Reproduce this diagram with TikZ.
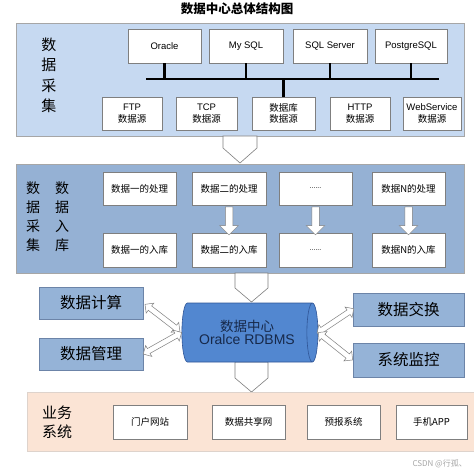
\documentclass[tikz,border=0pt]{standalone}
\usepackage{fontspec}
\setmainfont{Liberation Sans}
\newfontfamily\cjk{Noto Sans CJK SC}
\usetikzlibrary{shapes.geometric,shapes.arrows}
\definecolor{pOne}{HTML}{C6D9F1}
\definecolor{pTwo}{HTML}{95B1D4}
\definecolor{pFour}{HTML}{FBE4D5}
\definecolor{edgeGray}{HTML}{A6A6A6}
\definecolor{boxEdge}{HTML}{7F7F7F}
\definecolor{midBox}{HTML}{95B3D7}
\definecolor{midEdge}{HTML}{6C84A8}
\definecolor{cylFill}{HTML}{5287D0}
\definecolor{cylEdge}{HTML}{2F5597}
\definecolor{cylText}{HTML}{17294A}
\begin{document}
\begin{tikzpicture}[x=1pt,y=-1pt,
  panel/.style={draw=edgeGray,line width=0.6pt},
  wbox/.style={draw=boxEdge,fill=white,line width=0.6pt,inner sep=0pt,align=center,
    font=\fontsize{9.5}{11.5}\selectfont},
  cbox/.style={wbox,font=\cjk\fontsize{9.5}{11.5}\selectfont},
  mbox/.style={draw=midEdge,fill=midBox,line width=0.6pt,inner sep=0pt,
    minimum width=104pt,font=\cjk\fontsize{15.5}{18}\selectfont},
  bus/.style={line width=2.2pt,black},
  blk/.style={draw=boxEdge,fill=white,line width=0.6pt,line join=miter},
  darrow/.style={double arrow,draw=boxEdge,fill=white,line width=0.5pt,
    minimum height=44pt,minimum width=12pt,inner sep=2.5pt,double arrow head extend=3.5pt},
  sarrow/.style={single arrow,draw=boxEdge,fill=white,line width=0.5pt,rotate=-90,
    minimum height=28pt,minimum width=18pt,inner sep=3.5pt,single arrow head extend=5.5pt},
  biglabel/.style={font=\cjk\fontsize{15}{20.5}\selectfont,align=center,inner sep=0pt}
]
\useasboundingbox (0,0) rectangle (474,473);
\fill[white] (0,0) rectangle (474,473);

% title
\node[font=\cjk\bfseries\fontsize{12.5}{14}\selectfont] (title) at (237,9) {数据中心总体结构图};

% panel 1
\draw[panel,fill=pOne] (16,23) rectangle (464,136);
\node[biglabel] (l1) at (49,75.5) {数\\据\\采\\集};
\node[wbox,minimum width=73pt,minimum height=34pt] (ora) at (164.5,46) {Oracle};
\node[wbox,minimum width=74pt,minimum height=34pt] (my) at (246,46) {My SQL};
\node[wbox,minimum width=74pt,minimum height=34pt] (sqls) at (330,46) {SQL Server};
\node[wbox,minimum width=72pt,minimum height=34pt] (pg) at (411,46) {PostgreSQL};
\node[wbox,minimum width=60pt,minimum height=33pt] (ftp) at (132,113.5) {FTP\\{\cjk 数据源}};
\node[wbox,minimum width=61pt,minimum height=33pt] (tcp) at (206.5,113.5) {TCP\\{\cjk 数据源}};
\node[cbox,minimum width=63pt,minimum height=33pt] (db) at (283.5,113.5) {数据库\\数据源};
\node[wbox,minimum width=60pt,minimum height=33pt] (http) at (360,113.5) {HTTP\\{\cjk 数据源}};
\node[wbox,minimum width=58pt,minimum height=33pt] (ws) at (432,113.5) {WebService\\{\cjk 数据源}};
\coordinate (busL) at (146,79);
\coordinate (busR) at (439,79);
\draw[bus] (busL) -- (busR);
\foreach \n in {ora,my,sqls,pg}{\draw[bus] (\n.south) -- (\n.south |- busL);}
\draw[bus] (db.north |- busL) -- (db.north);

% arrow 1
\draw[blk] (223,136) -- (223,148) -- (240,163) -- (257,148) -- (257,136) -- cycle;

% panel 2
\draw[panel,fill=pTwo] (16,164) rectangle (464,273);
\node[font=\cjk\fontsize{14}{19}\selectfont,align=center,inner sep=0pt] (l2a) at (33,216.5) {数\\据\\采\\集};
\node[font=\cjk\fontsize{14}{19}\selectfont,align=center,inner sep=0pt] (l2b) at (62,216.5) {数\\据\\入\\库};
\node[cbox,minimum width=73pt,minimum height=33pt] (p1) at (139.5,188.5) {数据一的处理};
\node[cbox,minimum width=74pt,minimum height=33pt] (p2) at (229,188.5) {数据二的处理};
\node[wbox,minimum width=73pt,minimum height=33pt,font=\fontsize{7}{8}\selectfont] (p3) at (315.5,188.5) {......};
\node[cbox,minimum width=73pt,minimum height=33pt] (p4) at (408.5,188.5) {数据N的处理};
\node[cbox,minimum width=73pt,minimum height=34pt] (s1) at (139.5,250) {数据一的入库};
\node[cbox,minimum width=74pt,minimum height=34pt] (s2) at (229,250) {数据二的入库};
\node[wbox,minimum width=73pt,minimum height=34pt,font=\fontsize{7}{8}\selectfont] (s3) at (315.5,250) {......};
\node[cbox,minimum width=73pt,minimum height=34pt] (s4) at (408.5,250) {数据N的入库};
\foreach \a/\b in {p2/s2,p3/s3,p4/s4}{\path (\a.south) -- node[sarrow] {} (\b.north);}

% arrows 2 and 3
\draw[blk] (235,273) -- (235,288) -- (251.5,302) -- (268,288) -- (268,273) -- cycle;
\draw[blk] (235,362) -- (235,378) -- (251.5,392) -- (268,378) -- (268,362) -- cycle;

% middle layer
\node[cylinder,draw=cylEdge,fill=cylFill,line width=0.6pt,minimum height=136pt,minimum width=59pt,
  aspect=0.45,inner sep=0pt,align=center,text=cylText] (cyl) at (247,332.5)
  {{\cjk\fontsize{13.5}{16}\selectfont 数据中心}\\[1pt]{\fontsize{14}{16}\selectfont Oralce RDBMS}};
\node[mbox,minimum height=32pt] (calc) at (91,303) {数据计算};
\node[mbox,minimum height=32pt] (mgmt) at (91,354) {数据管理};
\node[mbox,minimum width=111pt,minimum height=33pt] (exch) at (408.5,309.5) {数据交换};
\node[mbox,minimum width=111pt,minimum height=34pt] (mon) at (408.5,360) {系统监控};
\path (calc.east) -- node[darrow,sloped] {} (cyl.west);
\path (mgmt.east) -- node[darrow,sloped] {} (cyl.west);
\path (cyl.east) -- node[darrow,sloped] {} (exch.west);
\path (cyl.east) -- node[darrow,sloped] {} (mon.west);

% panel 4
\draw[draw=pFour!80!black!60,fill=pFour,line width=0.6pt] (27,392) rectangle (476,451);
\node[font=\cjk\fontsize{15}{19}\selectfont,align=left,inner sep=0pt] (l4) at (57,422.5) {业务\\系统};
\node[cbox,minimum width=74pt,minimum height=34pt] (q1) at (150,422) {门户网站};
\node[cbox,minimum width=73pt,minimum height=34pt] (q2) at (248.5,422) {数据共享网};
\node[cbox,minimum width=73pt,minimum height=34pt] (q3) at (343.5,422) {预报系统};
\node[cbox,minimum width=71pt,minimum height=34pt] (q4) at (431.5,422) {手机APP};

% watermark
\node[font=\cjk\fontsize{8}{9}\selectfont,text=gray!70,anchor=east,inner sep=0pt] (wm) at (467,464) {CSDN @行孤、};
\end{tikzpicture}
\end{document}
